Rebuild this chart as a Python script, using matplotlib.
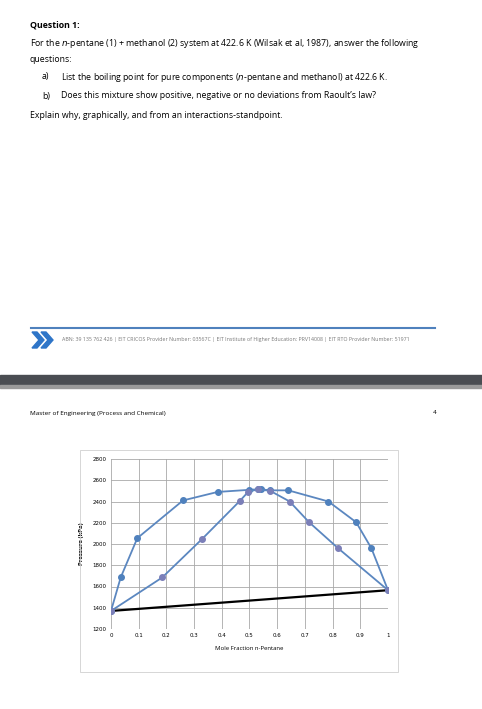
import matplotlib
matplotlib.use("Agg")
import matplotlib.pyplot as plt
from matplotlib.patches import Rectangle, Polygon

x_bubble = [0, 0.035, 0.095, 0.26, 0.385, 0.5, 0.53, 0.54, 0.575, 0.64, 0.785, 0.885, 0.94, 1.0]
p_bubble = [1370, 1685, 2055, 2410, 2490, 2510, 2515, 2515, 2505, 2505, 2400, 2205, 1960, 1565]
y_dew = [0, 0.185, 0.33, 0.465, 0.495, 0.53, 0.575, 0.645, 0.715, 0.82, 1.0]
p_dew = [1370, 1685, 2050, 2405, 2490, 2515, 2500, 2400, 2205, 1960, 1565]
x_raoult = [0, 1]
p_raoult = [1370, 1565]
xticks = [0, 0.1, 0.2, 0.3, 0.4, 0.5, 0.6, 0.7, 0.8, 0.9, 1]
xticklabels = ["0", "0.1", "0.2", "0.3", "0.4", "0.5", "0.6", "0.7", "0.8", "0.9", "1"]
yticks = [1200, 1400, 1600, 1800, 2000, 2200, 2400, 2600, 2800]

W, H = 482, 709
fig = plt.figure(figsize=(W/100, H/100), dpi=100)
fig.patch.set_facecolor("white")

def T(x, y, s, **kw):
    fig.text(x/W, 1-y/H, s, va="center", family="Open Sans", **kw)

T(30, 25, "Question 1:", fontsize=6.3, weight="bold")
T(30, 44, "For the $\\it{n}$-pentane (1) + methanol (2) system at 422.6 K (Wilsak et al, 1987), answer the following", fontsize=6.3)
T(30, 59, "questions:", fontsize=6.3)
T(42, 77, "a)", fontsize=6.3)
T(61, 77, "List the boiling point for pure components ($\\it{n}$-pentane and methanol) at 422.6 K.", fontsize=6.3)
T(42, 96, "b)", fontsize=6.3)
T(61, 96, "Does this mixture show positive, negative or no deviations from Raoult\u2019s law?", fontsize=6.3)
T(30, 115, "Explain why, graphically, and from an interactions-standpoint.", fontsize=6.3)

fig.add_artist(plt.Line2D([31/W, 435/W], [1-328/H]*2, color="#4f81bd", lw=1.5))
for dx in (0, 9):
    fig.add_artist(Polygon([[(32+dx)/W, 1-332/H], [(37+dx)/W, 1-332/H], [(44+dx)/W, 1-340/H], [(37+dx)/W, 1-348/H], [(32+dx)/W, 1-348/H], [(39+dx)/W, 1-340/H]], closed=True, color="#2e75c8"))
T(62, 340, "ABN: 39 135 762 426 | EIT CRICOS Provider Number: 03567C | EIT Institute of Higher Education: PRV14008 | EIT RTO Provider Number: 51971", fontsize=3.8, color="#777777")

fig.add_artist(Rectangle((0, 1-385/H), 1, 10/H, color="#4a4d52"))
fig.add_artist(Rectangle((0, 1-388/H), 1, 3/H, color="#9a9a9a"))
T(30, 413, "Master of Engineering (Process and Chemical)", fontsize=4.6)
T(433, 413, "4", fontsize=4.6)

fig.add_artist(Rectangle((80/W, 1-672/H), 318/W, 222/H, fill=False, ec="#d0d0d0", lw=0.6))

ax = fig.add_axes([111/W, 1-629/H, 277/W, 170/H])
ax.set_xlim(0, 1)
ax.set_ylim(1200, 2800)
ax.set_xticks(xticks)
ax.set_xticklabels(xticklabels)
ax.set_yticks(yticks)
ax.grid(True, color="#a8a8a8", lw=0.6)
for s in ax.spines.values():
    s.set_visible(False)
ax.tick_params(length=0, labelsize=4, pad=3)
ax.plot(x_raoult, p_raoult, color="black", lw=1.6, zorder=3)
ax.plot(x_bubble, p_bubble, color="#5b87c0", lw=1.3, marker="o", ms=4, mfc="#4f81bd", mec="#4f81bd", zorder=4)
ax.plot(y_dew, p_dew, color="#5b87c0", lw=1.3, marker="o", ms=4, mfc="#7b7fb8", mec="#7b7fb8", zorder=4)
ax.set_xlabel("Mole Fraction n-Pentane", fontsize=4.3, labelpad=6, family="Open Sans")
ax.set_ylabel("Pressure (kPa)", fontsize=4.3, weight="bold", labelpad=6, family="Open Sans")

fig.savefig("out.png", dpi=100)
